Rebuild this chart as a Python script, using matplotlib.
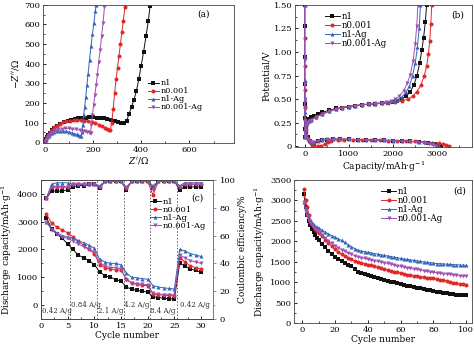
import matplotlib
matplotlib.use("Agg")
import matplotlib.pyplot as plt
from matplotlib.ticker import AutoMinorLocator, FuncFormatter, MultipleLocator

plt.rcParams['font.family'] = ['DejaVu Serif']
plt.rcParams['mathtext.fontset'] = 'dejavuserif'
plt.rcParams['font.size'] = 6

names = ['n1', 'n0.001', 'n1-Ag', 'n0.001-Ag']
colors = ['#111111', '#e0282a', '#3366b8', '#a050b0']
marks = ['s', 'o', '^', 'v']

# ---- (a) Nyquist plots ----
za_x = [
    [3, 6, 10, 15, 22, 30, 40, 52, 65, 80, 95, 110, 125, 140, 155, 170, 185, 200, 215, 230, 245, 260,
     275, 290, 305, 318, 330, 340, 350, 360, 370, 380, 390, 400, 410, 420, 430, 437],
    [3, 6, 10, 15, 22, 30, 40, 50, 62, 75, 90, 105, 120, 135, 150, 165, 180, 195, 210, 225, 238, 250,
     260, 268, 272, 278, 284, 290, 296, 302, 308, 314, 320, 326, 333],
    [2, 4, 7, 11, 16, 22, 30, 40, 50, 62, 75, 88, 100, 112, 122, 132, 140, 148, 152, 155, 158, 162,
     166, 170, 175, 180, 186, 192, 198, 204, 210, 214],
    [3, 5, 8, 12, 18, 25, 34, 44, 56, 70, 85, 100, 115, 130, 145, 158, 168, 176, 182, 186, 190, 194,
     198, 203, 208, 213, 218, 224, 230, 236, 242, 248],
]
za_y = [
    [5, 15, 25, 35, 48, 60, 72, 84, 94, 103, 110, 115, 119, 122, 124, 125, 126, 126, 125, 124, 122, 119,
     115, 110, 104, 100, 100, 110, 145, 180, 215, 260, 320, 390, 460, 540, 620, 695],
    [5, 15, 27, 38, 50, 62, 75, 85, 94, 101, 107, 110, 112, 112, 111, 109, 106, 102, 97, 90, 82, 74,
     67, 63, 62, 100, 170, 250, 320, 380, 440, 500, 560, 620, 690],
    [3, 10, 18, 26, 34, 41, 48, 53, 56, 57, 57, 55, 52, 48, 44, 40, 36, 33, 31, 50, 90, 140,
     180, 230, 290, 350, 420, 490, 550, 610, 670, 700],
    [4, 12, 20, 28, 37, 46, 54, 60, 65, 68, 70, 70, 68, 65, 62, 58, 55, 52, 50, 47, 48, 90,
     140, 190, 240, 290, 340, 410, 470, 540, 610, 690],
]

# ---- (b) charge / discharge profiles ----
dis_x = [
    [0, 0, 0, 2, 5, 10, 20, 40, 70, 110, 160, 220, 300, 400, 500, 650, 800, 1000, 1200, 1400, 1600,
     1800, 2000, 2200, 2400, 2600, 2800, 2950, 3050, 3100],
    [0, 0, 0, 2, 5, 10, 20, 40, 70, 110, 160, 220, 300, 380, 450, 520, 600, 750, 900, 1100, 1300,
     1500, 1700, 1900, 2100, 2300, 2500, 2700, 2900, 3050, 3150, 3220, 3270],
    [0, 0, 0, 2, 5, 10, 20, 40, 70, 110, 160, 220, 300, 400, 500, 650, 800, 1000, 1200, 1400, 1600,
     1800, 2000, 2200, 2400, 2600, 2750, 2880, 2980, 3040],
    [0, 0, 0, 2, 5, 10, 20, 40, 70, 110, 160, 220, 300, 400, 500, 650, 800, 1000, 1200, 1400, 1600,
     1800, 2000, 2200, 2400, 2550, 2700, 2820, 2920, 2980],
]
dis_v = [
    [1.50, 1.28, 0.95, 0.66, 0.45, 0.30, 0.20, 0.14, 0.10, 0.06, 0.03, 0.03, 0.05, 0.065, 0.07, 0.075,
     0.075, 0.073, 0.07, 0.068, 0.066, 0.063, 0.06, 0.055, 0.05, 0.045, 0.035, 0.025, 0.01, 0.0],
    [1.50, 1.15, 0.85, 0.60, 0.42, 0.28, 0.18, 0.12, 0.08, 0.04, 0.015, 0.005, 0.0, 0.005, 0.02, 0.045,
     0.06, 0.068, 0.07, 0.07, 0.068, 0.066, 0.064, 0.06, 0.057, 0.054, 0.05, 0.045, 0.038, 0.03, 0.02,
     0.01, 0.0],
    [1.50, 0.96, 0.70, 0.50, 0.36, 0.25, 0.17, 0.12, 0.08, 0.05, 0.035, 0.04, 0.06, 0.07, 0.075, 0.075,
     0.075, 0.073, 0.07, 0.068, 0.066, 0.064, 0.06, 0.056, 0.052, 0.046, 0.04, 0.03, 0.015, 0.0],
    [1.50, 0.92, 0.66, 0.50, 0.38, 0.27, 0.18, 0.12, 0.08, 0.05, 0.04, 0.045, 0.06, 0.07, 0.075, 0.075,
     0.074, 0.072, 0.07, 0.068, 0.066, 0.064, 0.06, 0.056, 0.05, 0.045, 0.038, 0.028, 0.012, 0.0],
]
chg_x = [
    [0, 10, 30, 60, 100, 150, 200, 300, 400, 550, 700, 850, 1000, 1150, 1300, 1450, 1600, 1750, 1900,
     2000, 2100, 2200, 2300, 2400, 2480, 2550, 2610, 2660, 2700, 2740, 2770],
    [0, 10, 30, 60, 100, 150, 250, 400, 550, 700, 850, 1000, 1150, 1300, 1450, 1600, 1750, 1900, 2050,
     2200, 2350, 2450, 2550, 2640, 2710, 2770, 2810, 2840, 2865, 2885],
    [0, 10, 30, 60, 100, 150, 250, 400, 550, 700, 850, 1000, 1150, 1300, 1450, 1600, 1750, 1900, 2000,
     2100, 2200, 2300, 2380, 2450, 2510, 2560, 2600, 2630],
    [0, 10, 30, 60, 100, 150, 250, 400, 550, 700, 850, 1000, 1150, 1300, 1450, 1600, 1750, 1850, 1950,
     2050, 2150, 2250, 2330, 2400, 2460, 2510, 2545, 2570],
]
chg_v = [
    [0.10, 0.18, 0.24, 0.27, 0.29, 0.31, 0.32, 0.34, 0.36, 0.38, 0.40, 0.41, 0.42, 0.43, 0.44, 0.445,
     0.45, 0.455, 0.46, 0.47, 0.48, 0.50, 0.53, 0.58, 0.65, 0.75, 0.88, 1.02, 1.15, 1.32, 1.50],
    [0.10, 0.17, 0.22, 0.25, 0.27, 0.28, 0.31, 0.34, 0.37, 0.39, 0.41, 0.42, 0.43, 0.44, 0.445, 0.45,
     0.455, 0.46, 0.47, 0.48, 0.50, 0.53, 0.58, 0.65, 0.74, 0.85, 0.98, 1.12, 1.30, 1.50],
    [0.10, 0.18, 0.23, 0.25, 0.27, 0.28, 0.31, 0.34, 0.37, 0.39, 0.41, 0.42, 0.43, 0.44, 0.445, 0.45,
     0.46, 0.47, 0.48, 0.49, 0.52, 0.57, 0.64, 0.75, 0.88, 1.05, 1.25, 1.50],
    [0.10, 0.19, 0.23, 0.25, 0.27, 0.28, 0.31, 0.34, 0.37, 0.39, 0.41, 0.42, 0.43, 0.44, 0.45, 0.455,
     0.46, 0.47, 0.48, 0.50, 0.53, 0.59, 0.67, 0.76, 0.90, 1.08, 1.28, 1.50],
]

# ---- (c) rate capability ----
cycles_c = list(range(1, 31))
cap_c = [
    [3150, 2750, 2550, 2400, 2200, 2000, 1800, 1700, 1600, 1450, 1200, 1050, 1000, 920, 860,
     650, 570, 530, 500, 470, 300, 270, 250, 230, 220, 1500, 1400, 1300, 1250, 1180],
    [3280, 2950, 2800, 2700, 2600, 2450, 2300, 2150, 2000, 1850, 1450, 1350, 1300, 1280, 1250,
     950, 800, 750, 720, 700, 400, 380, 360, 350, 330, 1700, 1550, 1400, 1350, 1300],
    [3000, 2750, 2600, 2500, 2450, 2400, 2300, 2250, 2150, 2050, 1650, 1550, 1500, 1500, 1450,
     1150, 1000, 980, 950, 930, 700, 650, 620, 600, 580, 2000, 1950, 1850, 1800, 1750],
    [3000, 2700, 2550, 2450, 2400, 2300, 2200, 2100, 2000, 1900, 1550, 1400, 1350, 1350, 1300,
     900, 800, 770, 750, 730, 420, 400, 380, 370, 360, 1800, 1700, 1600, 1550, 1500],
]
ce_c = [
    [87, 92, 92, 92, 93, 95, 96, 96, 97, 97, 94, 99, 99, 99, 99, 93, 99, 99, 99, 99,
     94, 99, 99, 99, 99, 93, 95, 95, 95, 95],
    [87, 95, 95, 95, 95, 97, 97, 97, 97, 97, 95, 99, 99, 99, 99, 94, 99, 99, 99, 99,
     89, 99, 99, 99, 99, 95, 97, 97, 97, 97],
    [87, 97, 98, 98, 98, 97, 97, 97, 97, 97, 96, 99, 99, 99, 99, 95, 99, 99, 99, 99,
     96, 99, 99, 99, 99, 96, 98, 98, 98, 98],
    [87, 95, 95, 95, 95, 97, 97, 97, 97, 97, 95, 99, 99, 99, 99, 94, 99, 99, 99, 99,
     93, 99, 99, 99, 99, 95, 97, 97, 97, 97],
]
rate_edges = [5.5, 10.5, 15.5, 20.5, 25.5]
rate_labels = ['0.42 A/g', '0.84 A/g', '2.1 A/g', '4.2 A/g', '8.4 A/g', '0.42 A/g']
rate_label_x = [0.1, 5.55, 10.7, 15.6, 20.4, 26.1]
rate_label_y = [-200, 0, -200, 0, -200, 0]

# ---- (d) long cycling ----
cycles_d = list(range(1, 11)) + list(range(12, 101, 2))
cap_d = [
    [3150, 2850, 2650, 2500, 2400, 2300, 2220, 2150, 2080, 2020,
     1930, 1850, 1770, 1690, 1620, 1560, 1510, 1470, 1430, 1390, 1330, 1250, 1220, 1190, 1165,
     1140, 1115, 1095, 1075, 1055, 1035, 1015, 995, 975, 955, 935, 915, 895, 875, 860,
     845, 830, 815, 800, 785, 770, 755, 740, 725, 710, 700, 690, 688, 685, 682],
    [3270, 3000, 2850, 2650, 2500, 2420, 2350, 2300, 2250, 2200,
     2120, 2040, 1960, 1880, 1800, 1740, 1690, 1640, 1600, 1560, 1520, 1490, 1470, 1450, 1430,
     1410, 1385, 1360, 1340, 1320, 1300, 1280, 1260, 1240, 1220, 1200, 1185, 1170, 1155, 1140,
     1130, 1120, 1110, 1100, 1090, 1075, 1060, 1045, 1030, 1010, 990, 970, 955, 945, 935],
    [2950, 2800, 2680, 2580, 2500, 2450, 2410, 2380, 2350, 2320,
     2270, 2220, 2180, 2140, 2100, 2060, 2020, 1970, 1920, 1870, 1820, 1780, 1760, 1745, 1730,
     1715, 1700, 1685, 1670, 1655, 1640, 1625, 1610, 1595, 1580, 1565, 1555, 1545, 1535, 1520,
     1505, 1495, 1485, 1475, 1465, 1455, 1450, 1445, 1440, 1435, 1430, 1425, 1420, 1415, 1410],
    [2950, 2750, 2620, 2520, 2450, 2400, 2350, 2300, 2260, 2220,
     2150, 2080, 2010, 1950, 1890, 1840, 1790, 1750, 1710, 1680, 1650, 1620, 1600, 1580, 1560,
     1540, 1525, 1510, 1495, 1480, 1460, 1440, 1420, 1400, 1385, 1370, 1355, 1340, 1325, 1310,
     1295, 1280, 1265, 1250, 1240, 1230, 1220, 1210, 1200, 1190, 1180, 1170, 1160, 1155, 1150],
]

fig = plt.figure(figsize=(4.74, 3.47), dpi=100)
ax_a = fig.add_axes([0.0907, 0.588, 0.403, 0.398])
ax_b = fig.add_axes([0.6224, 0.576, 0.3734, 0.410])
ax_c = fig.add_axes([0.0865, 0.0807, 0.3635, 0.4006])
ax_d = fig.add_axes([0.6203, 0.0692, 0.3755, 0.4121])


def style(ax):
    ax.tick_params(which='both', direction='in', top=False, right=False, labelsize=6, pad=2)
    ax.tick_params(which='major', length=2.5, width=0.6)
    ax.tick_params(which='minor', length=1.5, width=0.5)
    ax.xaxis.set_minor_locator(AutoMinorLocator(2))
    ax.yaxis.set_minor_locator(AutoMinorLocator(2))
    for s in ax.spines.values():
        s.set_linewidth(0.6)
        s.set_color('#444444')


def add_legend(ax, anchor, hl=1.5, fs=6.2):
    return ax.legend(loc='upper left', bbox_to_anchor=anchor, frameon=False, fontsize=fs,
                     handlelength=hl, handletextpad=0.2, labelspacing=0.0, borderpad=0,
                     borderaxespad=0)


kw = dict(markersize=2.9, linewidth=0.7, markeredgewidth=0)

# (a)
for i in range(4):
    ax_a.plot(za_x[i], za_y[i], marker=marks[i], color=colors[i], label=names[i], **kw)
ax_a.set_xlim(-7, 785)
ax_a.set_ylim(-4, 700)
ax_a.xaxis.set_major_locator(MultipleLocator(200))
ax_a.yaxis.set_major_locator(MultipleLocator(100))
style(ax_a)
ax_a.set_xlabel(r"$Z'/\Omega$", fontsize=6.5, labelpad=1)
ax_a.set_ylabel(r"$-Z''/\Omega$", fontsize=6.5, labelpad=2)
ax_a.text(0.84, 0.93, '(a)', transform=ax_a.transAxes, fontsize=6.5, ha='center', va='center')
add_legend(ax_a, (0.55, 0.46), hl=1.3, fs=5.9)

# (b)
for i in range(4):
    ax_b.plot(dis_x[i], dis_v[i], marker=marks[i], color=colors[i], **kw)
    ax_b.plot(chg_x[i], chg_v[i], marker=marks[i], color=colors[i], label=names[i], **kw)
ax_b.set_xlim(-220, 3800)
ax_b.set_ylim(-0.01, 1.5)
ax_b.xaxis.set_major_locator(MultipleLocator(1000))
ax_b.yaxis.set_major_locator(MultipleLocator(0.25))
ax_b.yaxis.set_major_formatter(FuncFormatter(lambda v, p: '0' if abs(v) < 1e-9 else f'{v:.2f}'))
style(ax_b)
ax_b.set_xlabel(r"Capacity/mAh$\cdot$g$^{-1}$", fontsize=6.5, labelpad=1)
ax_b.set_ylabel("Potential/V", fontsize=6.5, labelpad=2)
ax_b.text(0.92, 0.93, '(b)', transform=ax_b.transAxes, fontsize=6.5, ha='center', va='center')
add_legend(ax_b, (0.17, 0.95), hl=1.7)

# (c)
ax_ce = ax_c.twinx()
for xe in rate_edges:
    ax_c.axvline(xe, color='#555555', linestyle=(0, (2, 2)), linewidth=0.6)
for i in range(4):
    ax_c.plot(cycles_c, cap_c[i], marker=marks[i], color=colors[i], label=names[i], **kw)
    ax_ce.plot(cycles_c, ce_c[i], marker=marks[i], color=colors[i], **kw)
for lx, ly, t in zip(rate_label_x, rate_label_y, rate_labels):
    ax_c.text(lx, ly, t, fontsize=5, ha='left', va='center', color='#333333')
ax_c.set_xlim(0, 32.3)
ax_c.set_ylim(-500, 4500)
ax_ce.set_ylim(0, 100)
ax_c.xaxis.set_major_locator(MultipleLocator(5))
ax_c.yaxis.set_major_locator(MultipleLocator(1000))
ax_ce.yaxis.set_major_locator(MultipleLocator(20))
ax_ce.yaxis.set_minor_locator(AutoMinorLocator(2))
style(ax_c)
ax_ce.tick_params(which='both', direction='out', labelsize=6, pad=2, color='#7a78c0')
ax_ce.tick_params(which='major', length=2.5, width=0.6)
ax_ce.tick_params(which='minor', length=1.5, width=0.5)
for s in ax_ce.spines.values():
    s.set_linewidth(0.6)
    s.set_color('#444444')
ax_ce.spines['right'].set_color('#7a78c0')
ax_c.set_xlabel("Cycle number", fontsize=6.5, labelpad=1)
ax_c.set_ylabel(r"Discharge capacity/mAh$\cdot$g$^{-1}$", fontsize=6.5, labelpad=2)
ax_ce.set_ylabel("Coulombic efficiency/%", fontsize=6.5, labelpad=2)
ax_c.text(0.91, 0.87, '(c)', transform=ax_c.transAxes, fontsize=6.5, ha='center', va='center')
add_legend(ax_c, (0.63, 0.87), hl=1.4, fs=6.0)

# (d)
for i in range(4):
    ax_d.plot(cycles_d, cap_d[i], marker=marks[i], color=colors[i], label=names[i], **kw)
ax_d.set_xlim(-5, 103.5)
ax_d.set_ylim(0, 3500)
ax_d.xaxis.set_major_locator(MultipleLocator(20))
ax_d.yaxis.set_major_locator(MultipleLocator(500))
style(ax_d)
ax_d.set_xlabel("Cycle number", fontsize=6.5, labelpad=1)
ax_d.set_ylabel(r"Discharge capacity/mAh$\cdot$g$^{-1}$", fontsize=6.5, labelpad=2)
ax_d.text(0.93, 0.92, '(d)', transform=ax_d.transAxes, fontsize=6.5, ha='center', va='center')
add_legend(ax_d, (0.49, 0.95), hl=1.7)

fig.savefig('out.png', dpi=100)
